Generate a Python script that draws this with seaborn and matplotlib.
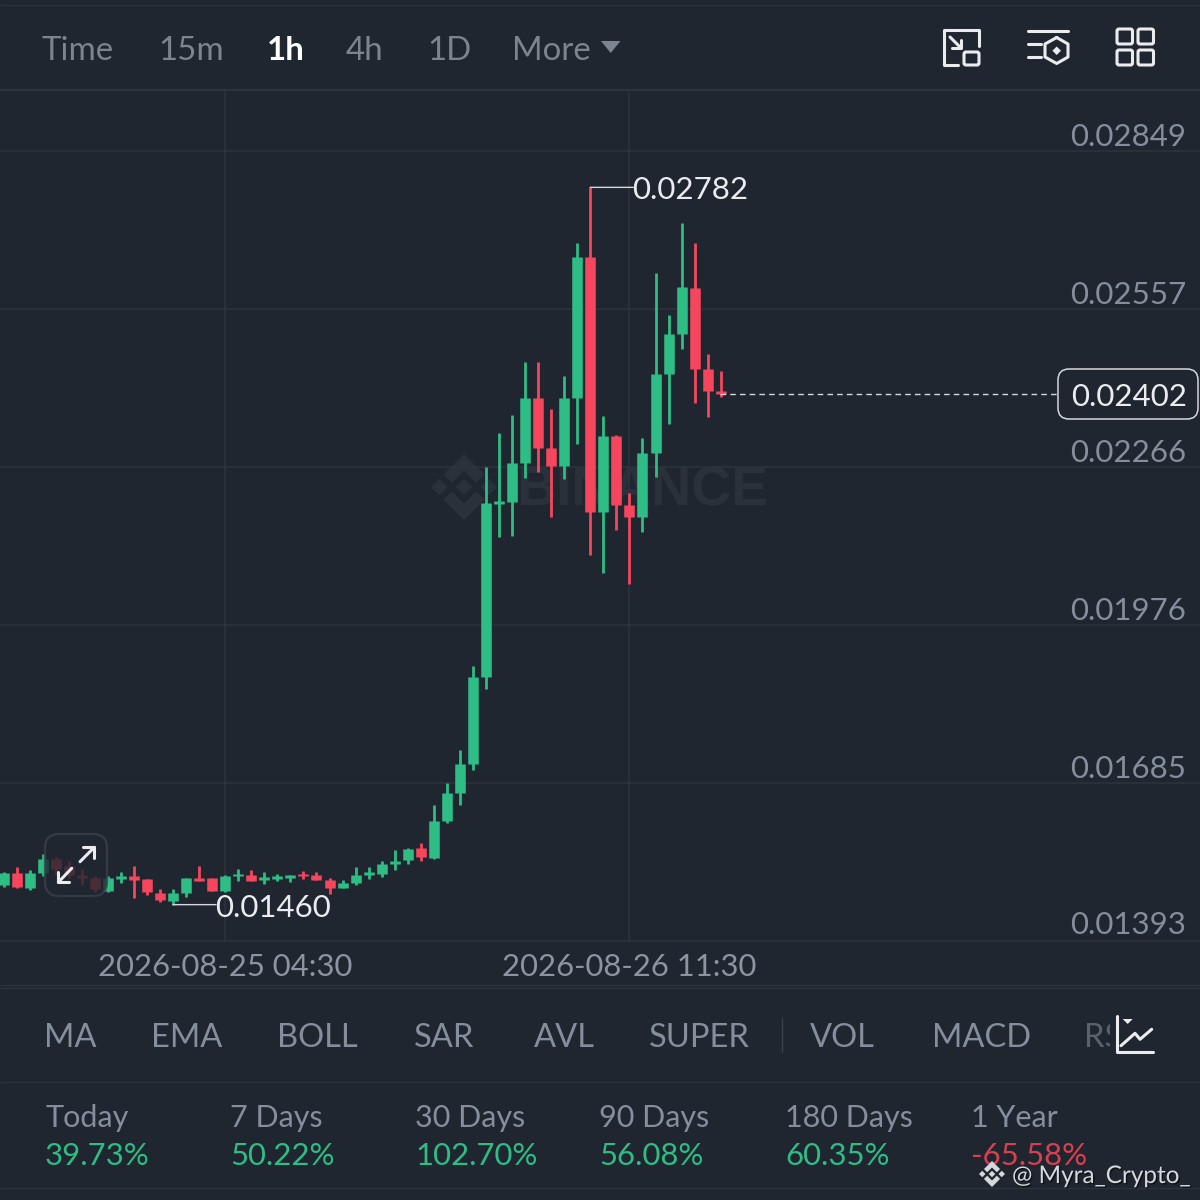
import pandas as pd
import matplotlib
matplotlib.use('Agg')
import matplotlib.pyplot as plt
from matplotlib.patches import FancyBboxPatch, Polygon, Rectangle
import matplotlib.patheffects as pe
import seaborn as sns

# 1h candles
opens = [0.01496, 0.01519, 0.01491, 0.01519, 0.01545, 0.01531, 0.01515, 0.01510, 0.01485, 0.01508,
         0.01512, 0.01508, 0.01482, 0.01466, 0.01481, 0.01509, 0.01509, 0.01485, 0.01512, 0.01514,
         0.01506, 0.01508, 0.01510, 0.01517, 0.01514, 0.01505, 0.01491, 0.01500, 0.01515, 0.01517,
         0.01535, 0.01542, 0.01564, 0.01546, 0.01615, 0.01666, 0.01719, 0.01880, 0.02199, 0.02203,
         0.02274, 0.02393, 0.02301, 0.02268, 0.02393, 0.02653, 0.02183, 0.02323, 0.02197, 0.02174,
         0.02293, 0.02438, 0.02512, 0.02596, 0.02447, 0.02406]
highs = [0.01520, 0.01530, 0.01523, 0.01554, 0.01547, 0.01540, 0.01525, 0.01512, 0.01512, 0.01520,
         0.01532, 0.01508, 0.01489, 0.01489, 0.01510, 0.01531, 0.01509, 0.01514, 0.01525, 0.01523,
         0.01520, 0.01516, 0.01515, 0.01522, 0.01521, 0.01509, 0.01506, 0.01529, 0.01529, 0.01540,
         0.01560, 0.01564, 0.01573, 0.01643, 0.01684, 0.01745, 0.01900, 0.02267, 0.02329, 0.02362,
         0.02460, 0.02460, 0.02374, 0.02435, 0.02679, 0.02782, 0.02360, 0.02325, 0.02219, 0.02320,
         0.02624, 0.02546, 0.02717, 0.02680, 0.02475, 0.02443]
lows = [0.01493, 0.01491, 0.01487, 0.01512, 0.01515, 0.01510, 0.01497, 0.01483, 0.01483, 0.01499,
        0.01472, 0.01477, 0.01465, 0.01460, 0.01474, 0.01504, 0.01486, 0.01483, 0.01503, 0.01504,
        0.01498, 0.01503, 0.01502, 0.01508, 0.01505, 0.01479, 0.01491, 0.01496, 0.01508, 0.01511,
        0.01523, 0.01535, 0.01540, 0.01544, 0.01611, 0.01643, 0.01708, 0.01858, 0.02137, 0.02139,
        0.02246, 0.02258, 0.02174, 0.02244, 0.02309, 0.02105, 0.02071, 0.02151, 0.02051, 0.02146,
        0.02248, 0.02346, 0.02485, 0.02385, 0.02359, 0.02396]
closes = [0.01519, 0.01492, 0.01519, 0.01545, 0.01525, 0.01515, 0.01510, 0.01488, 0.01509, 0.01512,
          0.01506, 0.01483, 0.01468, 0.01482, 0.01510, 0.01504, 0.01486, 0.01512, 0.01517, 0.01504,
          0.01511, 0.01512, 0.01515, 0.01512, 0.01505, 0.01491, 0.01500, 0.01514, 0.01520, 0.01535,
          0.01540, 0.01563, 0.01547, 0.01615, 0.01666, 0.01719, 0.01880, 0.02201, 0.02204, 0.02274,
          0.02393, 0.02301, 0.02268, 0.02393, 0.02653, 0.02183, 0.02323, 0.02197, 0.02174, 0.02293,
          0.02438, 0.02512, 0.02598, 0.02447, 0.02407, 0.02402]
price_levels = [0.02849, 0.02557, 0.02266, 0.01976, 0.01685, 0.01393]
date_ticks = ['2026-08-25 04:30', '2026-08-26 11:30']

periods = ['Today', '7 Days', '30 Days', '90 Days', '180 Days', '1 Year']
changes = ['39.73%', '50.22%', '102.70%', '56.08%', '60.35%', '-65.58%']
period_x = [45, 230, 415, 599, 785, 971]
indicators = ['MA', 'EMA', 'BOLL', 'SAR', 'AVL', 'SUPER', 'VOL', 'MACD']
indicator_x = [44, 151, 277, 414, 534, 649, 810, 932]
intervals = ['Time', '15m', '1h', '4h', '1D', 'More']
interval_x = [42, 158, 267, 346, 427, 512]

BG = '#1f2630'
LINE = '#2d343e'
GREEN = '#2ebd85'
RED = '#f6465d'
GREY = '#848e9c'
WHITE = '#eaecef'
MARK = '#2a313b'

sns.set_theme(style='darkgrid', rc={'axes.facecolor': 'none', 'figure.facecolor': BG,
                                    'grid.color': LINE, 'grid.linewidth': 1.1})
plt.rcParams['font.family'] = ['Lato', 'DejaVu Sans']

times = pd.date_range('2026-08-24 11:30', periods=len(opens), freq='h')
df = pd.DataFrame({'time': times, 'open': opens, 'high': highs, 'low': lows, 'close': closes})
df['side'] = ['up' if c >= o else 'down' for o, c in zip(opens, closes)]
wicks = df.melt(id_vars=['time', 'side'], value_vars=['low', 'high'], value_name='price')
bodies = df.melt(id_vars=['time', 'side'], value_vars=['open', 'close'], value_name='price')
palette = {'up': GREEN, 'down': RED}

fig = plt.figure(figsize=(12, 12), dpi=100)

# pixel axes under the chart, only for the watermark
under = fig.add_axes([0, 0, 1, 1], zorder=0)
under.set_xlim(0, 1200)
under.set_ylim(1200, 0)
under.axis('off')

ax = fig.add_axes([0, 1 - 942 / 1200, 1, (942 - 91) / 1200], zorder=1)
sns.lineplot(data=wicks, x='time', y='price', hue='side', units='time', estimator=None,
             palette=palette, linewidth=2, solid_capstyle='butt', legend=False, ax=ax)
sns.lineplot(data=bodies, x='time', y='price', hue='side', units='time', estimator=None,
             palette=palette, linewidth=7.6, solid_capstyle='butt', legend=False, ax=ax)

per_px = (price_levels[0] - price_levels[-1]) / (5 * 158)
ax.set_ylim(price_levels[-1] - per_px, price_levels[0] + 60 * per_px)
t0 = times[0]
ax.set_xlim(t0 - pd.Timedelta(hours=3.5 / 13.04), t0 + pd.Timedelta(hours=1196.5 / 13.04))
ax.set_yticks(price_levels)
ax.set_xticks(pd.to_datetime(date_ticks))
ax.set_xticklabels(date_ticks, color='#8d94a1', fontsize=22.3)
ax.set_xlabel('')
ax.set_ylabel('')
ax.tick_params(axis='y', labelleft=False, length=0)
ax.tick_params(axis='x', length=0, pad=8)
for s in ax.spines.values():
    s.set_visible(False)

# price labels sit on the right, just above their grid line
for lvl in price_levels:
    lift = 7 if lvl == price_levels[-1] else 5
    ax.annotate(f'{lvl:.5f}', xy=(1, lvl), xycoords=ax.get_yaxis_transform(),
                xytext=(-14 * .72, lift * .72), textcoords='offset points',
                ha='right', va='baseline', color=GREY, fontsize=22.5)

# high / low flags
i_hi = df['high'].idxmax()
i_lo = df['low'].idxmin()
for i, val in [(i_hi, highs[i_hi]), (i_lo, lows[i_lo])]:
    ax.annotate('', xy=(times[i], val), xytext=(43 * .72, 0), textcoords='offset points',
                arrowprops=dict(arrowstyle='-', color='#d5d8dc', lw=1, shrinkA=0, shrinkB=0))
    ax.annotate(f'{val:.5f}', xy=(times[i], val), xytext=(42 * .72, -12 * .72),
                textcoords='offset points', ha='left', va='baseline', color=WHITE, fontsize=22.5)

# last price dashed line
ax.axhline(closes[-1], xmin=720 / 1200, xmax=1058 / 1200, color='#d5d8dc', lw=1, ls=(0, (4, 3)), zorder=5)

# pixel axes on top for the app chrome
top = fig.add_axes([0, 0, 1, 1], zorder=2)
top.set_xlim(0, 1200)
top.set_ylim(1200, 0)
top.axis('off')


def logo(a, cx, cy, r, color, z=1):
    small = [(0, -.25), (.25, 0), (0, .25), (-.25, 0)]
    for dx in (-.75, 0, .75):
        a.add_patch(Polygon([(cx + (dx + u) * r, cy + v * r) for u, v in small], color=color, lw=0, zorder=z))
    for sgn in (-1, 1):
        pts = [(0, -1), (.62, -.38), (.37, -.13), (0, -.5), (-.37, -.13), (-.62, -.38)]
        a.add_patch(Polygon([(cx + u * r, cy + sgn * v * r) for u, v in pts], color=color, lw=0, zorder=z))


logo(under, 464, 487, 33, MARK)
under.text(516, 505, 'BINANCE', color=MARK, fontsize=39.8, fontweight='bold', ha='left', va='baseline',
           family='Liberation Sans')

for y, lw in [(4.5, 1), (90, 1.6), (985, 1), (987.5, 1), (1081.5, 1), (1188, 1)]:
    top.plot([0, 1200], [y, y], color=LINE, lw=lw, solid_capstyle='butt')

# interval bar
for name, x in zip(intervals, interval_x):
    active = name == '1h'
    top.text(x, 60, name, color='#ffffff' if active else '#7c8490', fontsize=23.8,
             fontweight='bold' if active else 'normal', ha='left', va='baseline')
top.add_patch(Polygon([(601, 41), (620.5, 41), (610.7, 53)], color='#7c8490', lw=0))

ICON = {'color': WHITE, 'lw': 2.2, 'solid_capstyle': 'round', 'solid_joinstyle': 'round'}


def poly(xs, ys):
    top.plot(xs, ys, **ICON)


def box(x, y, w, h, rad=2):
    top.add_patch(FancyBboxPatch((x, y), w, h, boxstyle=f'round,pad=0,rounding_size={rad}',
                                 fc='none', ec=WHITE, lw=2.2))


poly([979, 979, 944, 944, 958], [46, 30, 30, 65, 65])
box(964, 52, 15, 13)
poly([950, 961], [37, 48])
poly([961, 961, 952], [40, 48, 48])
poly([1028, 1068], [31, 31])
poly([1028, 1041], [44, 44])
poly([1028, 1041], [57, 57])
poly([1056.7, 1068, 1068, 1056.7, 1045, 1045, 1056.7], [37.5, 44, 57, 63.5, 57, 44, 37.5])
top.add_patch(Polygon([(1056.7, 46.5), (1061, 50.7), (1056.7, 55), (1052.4, 50.7)], color=WHITE, lw=0))
for bx in (1117, 1138):
    for by in (29, 50):
        box(bx, by, 15.5, 15)

# expand button, dims the candles below it
top.add_patch(FancyBboxPatch((45, 834), 62, 62, boxstyle='round,pad=0,rounding_size=14',
                             fc=BG, ec='#3a414c', lw=1.6, alpha=.8))
poly([80, 94.3], [861.7, 847.3])
poly([83.3, 94.3, 94.3], [847.3, 847.3, 858])
poly([71.7, 58.3], [868.3, 882.3])
poly([58.3, 58.3, 69], [871.7, 882.3, 882.3])

# last price tag
top.add_patch(FancyBboxPatch((1058, 369), 140, 50, boxstyle='round,pad=0,rounding_size=11',
                             fc=BG, ec='#d5d8dc', lw=1.1))
top.text(1129, 406, f'{closes[-1]:.5f}', color=WHITE, fontsize=22.5, ha='center', va='baseline')

# indicator row
for name, x in zip(indicators, indicator_x):
    top.text(x, 1047, name, color=GREY, fontsize=23.5, ha='left', va='baseline')
top.plot([782, 782], [1018, 1052], color='#3a414c', lw=1)
top.text(1084, 1047, 'RSI', color='#59616c', fontsize=23.5, ha='left', va='baseline', zorder=2)
top.add_patch(Rectangle((1110, 1010), 90, 60, fc=BG, ec='none', zorder=2.5))
ICON['zorder'] = 3
poly([1116.7, 1116.7, 1153], [1016, 1052, 1052])
poly([1121, 1135, 1140, 1151.7], [1045.7, 1033.3, 1039.3, 1029.3])
top.add_patch(Polygon([(1122.7, 1019), (1132.7, 1019), (1127.7, 1024)], color=WHITE, lw=0, zorder=3))

# change table
for x, name, val in zip(period_x, periods, changes):
    top.text(x, 1126.7, name, color=GREY, fontsize=22, ha='left', va='baseline')
    col = '#d9404f' if val.startswith('-') else GREEN
    top.text(x, 1165, val, color=col, fontsize=22.4, ha='left', va='baseline')

# repost watermark
logo(top, 992, 1174, 13, '#d5d8dc', z=4)
top.text(1012, 1183, '@ Myra_Crypto_', color='#d5d8dc', fontsize=17.5, ha='left', va='baseline', zorder=4,
         path_effects=[pe.withSimplePatchShadow(offset=(1, -1), shadow_rgbFace='#000000', alpha=.5)])

fig.savefig('out.png', dpi=100, facecolor=BG)
